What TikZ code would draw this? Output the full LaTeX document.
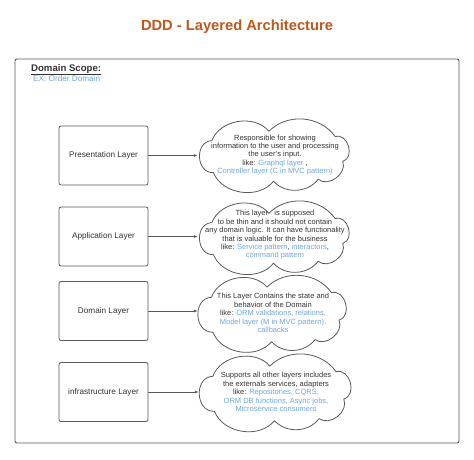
\documentclass[tikz,border=0pt]{standalone}
\usepackage{fontspec}
\setmainfont{Liberation Sans}
\usepackage{xcolor}
\usetikzlibrary{arrows.meta}
\definecolor{bg}{HTML}{FFFFFF}
\definecolor{line}{HTML}{5A5A5A}
\definecolor{ink}{HTML}{333333}
\definecolor{rust}{HTML}{C0571B}
\definecolor{sky}{HTML}{6FA8DC}
\tikzset{
  frame/.style={draw=line, line width=0.9pt, rounded corners=2pt},
  layer/.style={draw=line, line width=0.8pt, rounded corners=2pt, minimum width=89pt, minimum height=59pt, inner sep=0pt, text=ink, font=\fontsize{8.2}{9.5}\selectfont},
  area/.style={minimum width=154pt, minimum height=66pt, inner sep=0pt},
  puff/.style={draw=line, line width=0.8pt, line join=round},
  note/.style={align=center, text=ink, inner sep=0pt, font=\fontsize{7.5}{8.4}\selectfont},
  flow/.style={draw=line, line width=0.7pt, -{Latex[length=4pt,width=3pt]}},
}
\newcommand{\hl}[1]{\textcolor{sky}{#1}}
% cloud outline round a node: #1 node, #2 half width, #3 half height
\newcommand{\puffs}[3]{%
  \begin{scope}[shift={(#1.center)}, x=#2, y=#3]
    \draw[puff] (-0.82,0.45) to[bend left=60] (-0.08,0.74)
      to[bend left=50] (0.78,0.58)
      to[bend left=90, looseness=1.3] (0.88,-0.2)
      to[bend left=75, looseness=1.1] (0.56,-0.76)
      to[bend left=50] (-0.02,-0.82)
      to[bend left=60] (-0.8,-0.55)
      to[bend left=90, looseness=1.4] cycle;
  \end{scope}}

\begin{document}
\begin{tikzpicture}[x=1pt,y=-1pt]
  \useasboundingbox[fill=bg] (0,0) rectangle (474,459);

  \node[text=rust, font=\fontsize{14.7}{17}\selectfont\bfseries] (title) at (237,27) {DDD - Layered Architecture};
  \draw[frame] (15,59) rectangle (459,443);
  \node[anchor=base west, inner sep=0pt, text=ink, font=\fontsize{9.6}{11}\selectfont\bfseries] (scope) at (31,71) {\underline{Domain Scope:}};
  \node[anchor=base west, inner sep=0pt, text=sky, font=\fontsize{8.2}{9.5}\selectfont] (ex) at (33,81) {EX: Order Domain};

  % layers
  \node[layer] (pres) at (103.5,155.5) {Presentation Layer};
  \node[layer] (app)  at (103.5,236.5) {Application Layer};
  \node[layer] (dom)  at (103.5,311)   {Domain Layer};
  \node[layer] (infra) at (103.5,392)  {infrastructure Layer};

  % clouds
  \node[area] (presc) at (275,155) {};
  \node[area] (appc)  at (275,237) {};
  \node[area, minimum width=150pt, minimum height=70pt] (domc) at (273,313) {};
  \node[area, minimum height=70pt] (infrac) at (276,392) {};
  \puffs{presc}{77pt}{32pt}
  \puffs{appc}{77pt}{32pt}
  \puffs{domc}{75pt}{35pt}
  \puffs{infrac}{77pt}{35pt}

  \node[note] (prest) at (presc) {Responsible for showing\\information to the user and processing\\the user's input.\\like: \hl{Graphql layer} ,\\\hl{Controller layer (C in MVC pattern)}};
  \node[note] (appt) at ([yshift=2pt]appc.center) {This layer \ \ is supposed\\to be thin and it should not contain\\any domain logic. It can have functionality\\that is valuable for the business\\like: \hl{Service pattern}, \hl{interactors},\\\hl{command pattern}};
  \node[note] (domt) at (domc) {This Layer Contains the state and\\behavior of the Domain\\like: \hl{ORM validations, relations,}\\\hl{Model layer (M in MVC pattern),}\\\hl{callbacks}};
  \node[note] (infrat) at (infrac) {Supports all other layers includes\\the externals services, adapters\\like: \hl{Repositories, CQRS,}\\\hl{ORM DB functions, Async jobs,}\\\hl{Microservice consumers}};

  \draw[flow] (pres) -- (pres -| presc.west);
  \draw[flow] (app) -- (app -| appc.west);
  \draw[flow] (dom) -- (dom -| domc.west);
  \draw[flow] (infra) -- (infra -| infrac.west);
\end{tikzpicture}
\end{document}
